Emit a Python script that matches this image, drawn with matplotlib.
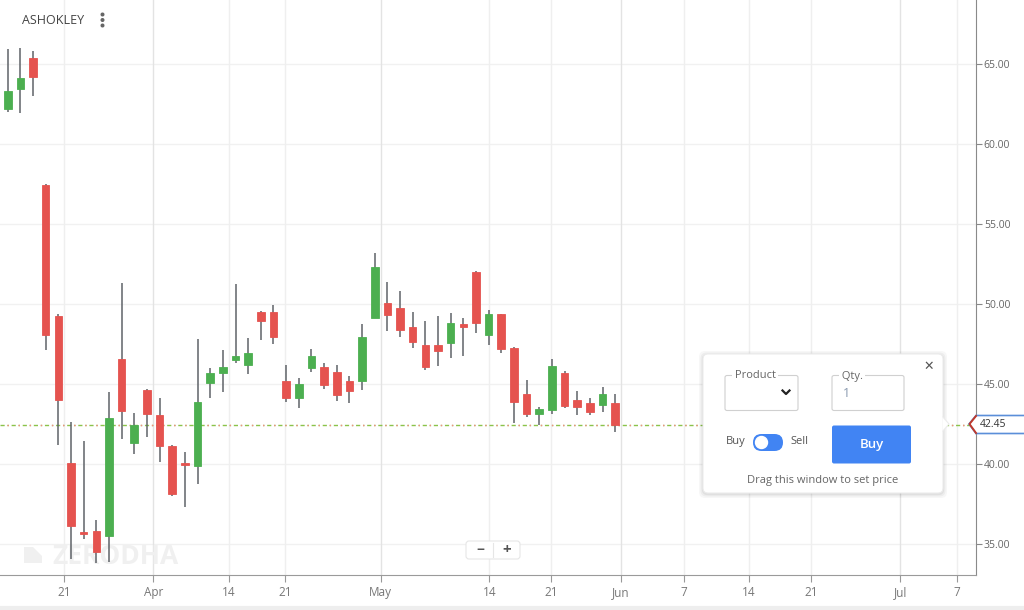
import numpy as np
import matplotlib
matplotlib.use("Agg")
import matplotlib.pyplot as plt
import matplotlib.transforms as mtransforms
from matplotlib.patches import FancyBboxPatch, Polygon, Circle
from matplotlib.lines import Line2D

plt.rcParams['font.family'] = ['Open Sans', 'DejaVu Sans']

symbol = "ASHOKLEY"

# daily OHLC
opens = [62.20, 63.44, 65.36, 57.44, 49.25, 40.06, 35.77, 35.81, 35.52, 46.56,
         41.29, 44.63, 43.08, 41.13, 40.05, 39.88, 45.04, 45.71, 46.50, 46.19,
         49.50, 49.52, 45.21, 44.11, 45.98, 46.04, 45.75, 45.21, 45.19, 49.14,
         50.04, 49.77, 48.58, 47.42, 47.44, 47.58, 48.75, 52.02, 48.06, 49.38,
         47.23, 44.36, 43.11, 43.38, 45.67, 44.00, 43.79, 43.71, 43.81]
highs = [65.92, 65.98, 65.83, 57.50, 49.40, 42.63, 41.44, 36.50, 44.52, 51.29,
         43.17, 44.70, 44.14, 41.20, 40.77, 47.79, 45.98, 47.13, 51.23, 47.86,
         49.56, 49.94, 46.19, 45.39, 47.19, 46.29, 46.17, 45.50, 48.73, 53.17,
         51.40, 50.83, 49.48, 48.96, 49.27, 49.42, 49.15, 52.05, 49.63, 49.40,
         47.33, 45.25, 43.58, 46.54, 45.81, 44.58, 44.10, 44.79, 44.38]
lows = [62.02, 61.92, 62.98, 47.13, 41.19, 34.04, 35.30, 33.80, 33.86, 41.58,
        40.63, 41.71, 40.14, 38.02, 37.33, 38.77, 44.14, 44.52, 46.33, 45.61,
        47.75, 47.48, 43.89, 43.52, 45.73, 44.67, 43.94, 43.79, 44.63, 49.10,
        48.31, 47.96, 47.27, 45.88, 46.13, 46.61, 46.75, 48.21, 47.44, 46.92,
        42.54, 42.96, 42.44, 43.13, 43.48, 43.06, 43.06, 43.27, 42.02]
closes = [63.33, 64.14, 64.19, 48.08, 43.97, 36.13, 35.64, 34.52, 42.86, 43.29,
          42.44, 43.11, 41.14, 38.11, 39.95, 43.88, 45.67, 46.08, 46.75, 46.96,
          48.94, 47.92, 44.11, 45.00, 46.75, 44.96, 44.31, 44.58, 47.96, 52.33,
          49.31, 48.38, 47.64, 46.08, 47.06, 48.79, 48.58, 48.79, 49.38, 47.19,
          43.89, 43.13, 43.42, 46.14, 43.64, 43.58, 43.23, 44.39, 42.45]

# date labels on the bar axis (bar index units)
tick_pos = [4.47, 11.51, 17.49, 21.94, 29.47, 38.05, 42.95, 48.46, 53.46, 58.55, 63.5, 70.54, 75.0]
tick_labels = ["21", "Apr", "14", "21", "May", "14", "21", "Jun", "7", "14", "21", "Jul", "7"]
month_labels = ["Apr", "May", "Jun", "Jul"]
price_ticks = [35, 40, 45, 50, 55, 60, 65]

GREEN = "#4caf50"
RED = "#e5534f"
WICK = "#5f6368"

W, H = 1024, 610
fig = plt.figure(figsize=(W / 100, H / 100), dpi=100)
ax = fig.add_axes([0, 35 / H, 975.5 / W, 575 / H])
# pixel transform, origin top-left
tr = mtransforms.Affine2D().scale(1 / W, -1 / H).translate(0, 1) + fig.transFigure

o = np.array(opens)
h = np.array(highs)
l = np.array(lows)
c = np.array(closes)
x = np.arange(len(o))
up = c >= o
cols = np.where(up, GREEN, RED)

# grid
for p in price_ticks:
    ax.axhline(p, color="#f1f1f1", lw=1, zorder=0)
for p, lab in zip(tick_pos, tick_labels):
    ax.axvline(p, color="#e3e3e3" if lab in month_labels else "#efefef", lw=1, zorder=0)

# watermark, behind the candles
ax.add_patch(Polygon([(24, 547), (33, 547), (42, 556), (42, 563), (24, 563)], closed=True,
                     transform=tr, facecolor="#f0f0f0", edgecolor="none", zorder=0.5))
ax.text(52, 556, "ZERODHA", transform=tr, fontsize=19, fontweight="bold", color="#f0f0f0",
        va="center", ha="left", zorder=0.5)

ax.vlines(x, l, h, color=WICK, lw=1.1, zorder=2)
bottom = np.minimum(o, c)
height = np.maximum(np.abs(c - o), 0.12)
ax.bar(x, height, bottom=bottom, width=0.6, color=cols, edgecolor=cols, lw=0.6, zorder=3)

# last price line (green dash, red dot)
last = closes[-1]
ax.axhline(last, color="#8bc34a", lw=1, linestyle=(0, (3, 2, 1, 2)), zorder=1)
ax.axhline(last, color="#f28b82", lw=1, linestyle=(3, (1, 7)), zorder=1)

ax.set_xlim(-0.61, 76.47)
ax.set_ylim(33.06, 69.0)
ax.set_xticks(tick_pos)
ax.set_xticklabels(tick_labels)
ax.yaxis.tick_right()
ax.set_yticks(price_ticks)
ax.set_yticklabels(["%.2f" % p for p in price_ticks])
ax.tick_params(axis="y", length=4, width=0.8, color="#888", labelsize=7.5, labelcolor="#666", pad=2)
ax.tick_params(axis="x", length=5, width=0.8, color="#999", labelsize=8.5, labelcolor="#777", pad=3)
for s in ["top", "left"]:
    ax.spines[s].set_visible(False)
ax.spines["right"].set_color("#8a8a8a")
ax.spines["bottom"].set_color("#9a9a9a")

# title
fig.text(22, 20, symbol, transform=tr, fontsize=9, color="#444", va="center", ha="left")
for yy in (14.5, 20, 25.5):
    fig.add_artist(Circle((102.5, yy), 1.3, transform=tr, color="#666"))

# zoom control
fig.add_artist(FancyBboxPatch((466, 541), 54, 18, boxstyle="round,pad=0,rounding_size=3", transform=tr,
                              facecolor="white", edgecolor="#e6e6e6", lw=0.8))
fig.add_artist(Line2D([493, 493], [543, 557], transform=tr, color="#e6e6e6", lw=0.8))
fig.text(480, 550, "\u2212", transform=tr, fontsize=10, fontweight="bold", color="#555", ha="center", va="center")
fig.text(507, 550, "+", transform=tr, fontsize=11, fontweight="bold", color="#555", ha="center", va="center")

# last price tag on the axis
fig.add_artist(Polygon([(969, 424), (976, 415.5), (1030, 415.5), (1030, 433.5), (976, 433.5)], closed=True,
                       transform=tr, facecolor="white", edgecolor="#5b8fd9", lw=1.2))
fig.add_artist(Line2D([976, 969.5, 976], [416, 424, 433], transform=tr, color="#c0392b", lw=1.4))
fig.text(980, 424.5, "%.2f" % last, transform=tr, fontsize=7.5, color="#333", va="center", ha="left")

# order window
for k, a in ((4, 0.03), (2.5, 0.04), (1.2, 0.05)):
    fig.add_artist(FancyBboxPatch((703 - k, 354 - k + 1), 240 + 2 * k, 139 + 2 * k,
                                  boxstyle="round,pad=0,rounding_size=6", transform=tr,
                                  facecolor="black", edgecolor="none", alpha=a))
fig.add_artist(FancyBboxPatch((703, 354), 240, 139, boxstyle="round,pad=0,rounding_size=5", transform=tr,
                              facecolor="white", edgecolor="#ececec", lw=0.8))
fig.add_artist(Polygon([(942.5, 417), (949, 424), (942.5, 431)], closed=True, transform=tr,
                       facecolor="white", edgecolor="none"))
fig.add_artist(Line2D([943, 949, 943], [417, 424, 431], transform=tr, color="#ececec", lw=0.8))

# product select
fig.add_artist(FancyBboxPatch((725, 375.5), 73, 35, boxstyle="round,pad=0,rounding_size=2", transform=tr,
                              facecolor="white", edgecolor="#d0d0d0", lw=0.8))
fig.text(755, 375.5, " Product ", transform=tr, fontsize=8, color="#666", ha="center", va="center",
         bbox=dict(facecolor="white", edgecolor="none", pad=0))
fig.add_artist(Line2D([782.5, 786, 789.5], [390.5, 394, 390.5], transform=tr, color="#222", lw=1.6))

# qty box
fig.add_artist(FancyBboxPatch((832, 375.5), 72, 35, boxstyle="round,pad=0,rounding_size=2", transform=tr,
                              facecolor="white", edgecolor="#d0d0d0", lw=0.8))
fig.text(852, 376, " Qty. ", transform=tr, fontsize=8, color="#666", ha="center", va="center",
         bbox=dict(facecolor="white", edgecolor="none", pad=0))
fig.text(843, 393.5, "1", transform=tr, fontsize=9, color="#8a9ab0", ha="left", va="center")

# close button
fig.text(929, 366, "\u2715", transform=tr, fontsize=9, fontweight="bold", color="#555", ha="center",
         va="center", family=["DejaVu Sans"])

# buy / sell toggle
fig.text(736, 441.5, "Buy", transform=tr, fontsize=8, color="#555", ha="center", va="center")
fig.add_artist(FancyBboxPatch((753, 434), 30, 17, boxstyle="round,pad=0,rounding_size=8.5", transform=tr,
                              facecolor="#4184f3", edgecolor="none"))
fig.add_artist(Circle((761.5, 442.5), 6, transform=tr, color="white"))
fig.text(799.5, 441.5, "Sell", transform=tr, fontsize=8, color="#555", ha="center", va="center")

# buy button
fig.add_artist(FancyBboxPatch((832, 425.5), 79, 38, boxstyle="round,pad=0,rounding_size=2", transform=tr,
                              facecolor="#4184f3", edgecolor="none"))
fig.text(871.5, 444.5, "Buy", transform=tr, fontsize=9.5, fontweight="semibold", color="white",
         ha="center", va="center")

fig.text(823, 480, "Drag this window to set price", transform=tr, fontsize=8, color="#666",
         ha="center", va="center")

# bottom border strip
fig.add_artist(Line2D([0, 1024], [608, 608], transform=tr, color="#eeeeee", lw=3))

fig.savefig("out.png", dpi=100)
